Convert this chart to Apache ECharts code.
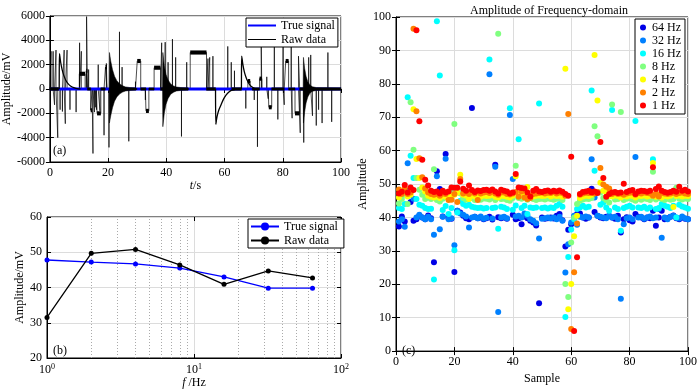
<!DOCTYPE html>
<html><head><meta charset="utf-8">
<script src="https://cdn.jsdelivr.net/npm/echarts@6/dist/echarts.min.js"></script>
<style>html,body{margin:0;padding:0;background:#fff}#c{width:700px;height:390px}</style>
</head><body><div id="c"></div>
<script>
// ---------- Panel (a): time domain ----------
const trueA = [[0, 0], [100, 0]];
const spikesA = [
  [0.4,3100],[1.1,3100],[1.6,-1300],[2.1,3200],[2.7,-4000],[3.5,-1700],[4.3,-1850],[4.9,3200],[5.3,-2850],[5.9,3200],[6.9,-1700],[9.0,-1900],
  [10.2,3800],[10.8,3100],[12.6,5950],[13.3,1600],[14.8,-5300],[15.3,-1900],[15.6,-1500],[16.0,-1700],[16.6,2000],[17.2,-1800],[18.6,-3800],[19.4,2100],
  [20.3,-4800],[23.9,4700],[24.8,1800],[27.1,-4300],[29.4,600],[32.8,-900],
  [38.4,3800],[39.6,3850],[40.6,2200],[42.1,4100],[43.2,2600],[45.2,-3900],[47.0,2200],
  [54.3,2500],[54.9,2600],[56.0,2700],[61.1,3500],[62.3,2200],[63.4,1500],
  [67.3,-1600],[70.2,-900],[71.3,-4750],[72.6,3500],[74.5,1000],[75.0,-800],[77.1,4000],[78.3,-2500],[80.1,3500],[80.5,-1300],
  [82.9,3600],[83.2,-2400],[85.4,2700],[86.0,-3600],[87.2,-4400],[88.9,2600],[89.6,2800],[90.2,-2200],[91.5,-3000],[92.3,-1700],[93.5,-2800],[95.5,3000],[96.8,-2700]
];
const plateausA = [
  [10.1,12.1,1250],[12.5,12.9,1500],[14.0,14.5,-1750],[16.2,17.5,-2000],[19.1,19.6,1800],[30.0,31.2,2300],[33.0,34.0,-1800],
  [35.8,38.0,1750],[48.2,53.8,3000],[68.0,68.8,650],[72.0,72.8,850],[75.2,76.2,-1500],[81.0,82.0,2300],[84.2,85.8,-2000]
];
const decay1 = [[3.2,0],[3.3,2900],[3.7,2200],[4.2,1600],[4.8,1100],[5.5,700],[6.3,420],[7.2,230],[8.2,110],[9.3,40],[10.5,0]];
const decay4 = [[56.9,0],[57.0,-2900],[57.4,-2300],[58.0,-1750],[58.8,-1300],[59.6,-850],[60.5,-500],[61.5,-250],[62.5,-100],[64.0,0]];
const decay5 = [[65.8,0],[65.9,2700],[66.3,2000],[66.8,1400],[67.3,1000],[67.9,650],[68.5,400],[69.2,200],[70.2,60],[71.0,0]];
const burst2 = [[20.35,0,0],[20.45,3000,-2800],[20.9,2300,-2200],[21.5,1600,-1550],[22.2,1050,-1000],[23,680,-650],[24,420,-400],[25,260,-250],[26,170,-160],[27.5,120,-120],[29.5,100,-100],[30,0,0]];
const burst3 = [[38.7,0,0],[38.8,3000,-3100],[39.3,1900,-2000],[39.9,1200,-1250],[40.6,750,-780],[41.5,420,-430],[42.5,250,-260],[43.5,160,-160],[45,120,-120],[47.5,100,-100],[47.6,0,0]];
const burst6 = [[87.0,0,0],[87.1,2600,-2800],[87.5,1700,-1900],[88,1050,-1150],[88.6,600,-650],[89.3,330,-350],[90.2,180,-180],[91.5,120,-120],[100,110,-110]];
const noiseA = [[0,3.0,120],[12.9,14.0,100],[17.5,19.0,100],[31.2,33.0,100],[34.0,35.8,90],[38.0,38.8,110],[53.8,56.9,110],[62.5,65.8,110],[69.5,72.0,100],[76.2,80.5,100],[82.0,84.2,90],[85.8,87.1,110]];

// ---------- Panel (b): frequency vs amplitude ----------
const freqB = [1, 2, 4, 8, 16, 32, 64];
const trueB = [47.8, 47.2, 46.7, 45.5, 43.0, 39.8, 39.8];
const rawB  = [31.5, 49.7, 50.8, 46.4, 40.9, 44.7, 42.7];
const minorB = [2,3,4,5,6,7,8,9,20,30,40,50,60,70,80,90];

// ---------- Panel (c): amplitude per sample ----------
const namesC = ['64 Hz','32 Hz','16 Hz','8 Hz','4 Hz','2 Hz','1 Hz'];
const c64 = [37.3,40.3,38.8,47.9,44.6,39.0,39.5,40.6,40.0,39.5,
40.6,39.8,26.6,53.8,48.5,40.3,59.0,39.8,39.6,23.7,
42.0,41.5,40.5,39.8,39.5,72.8,40.2,39.8,40.0,39.5,
39.8,40.2,39.4,55.8,40.1,39.8,40.0,39.6,46.8,40.8,
39.5,39.8,38.0,40.3,39.8,39.0,38.5,37.6,14.3,40.0,
39.6,39.8,40.0,39.7,40.5,41.0,39.2,31.3,36.3,38.0,
40.2,41.0,41.2,40.0,39.6,40.0,48.6,41.6,40.5,40.0,
39.8,40.2,40.4,40.0,39.6,40.5,35.5,39.5,40.1,39.2,
38.8,41.0,40.2,40.0,39.5,40.0,39.8,42.0,37.5,40.0,
42.0,39.5,39.8,40.2,40.6,39.8,39.5,40.0,39.6,39.5];
const c32 = [38.8,39.5,37.2,56.2,48.4,45.6,40.0,40.8,40.0,39.5,
40.2,39.5,34.8,52.3,36.5,40.2,57.6,39.5,39.8,31.7,
42.0,41.2,40.8,40.3,37.0,40.0,40.2,39.8,40.3,39.6,
39.9,82.9,39.7,55.2,11.7,40.0,40.2,39.8,70.7,51.5,
40.3,40.5,40.0,41.2,40.5,39.5,39.0,38.3,33.7,39.6,
39.8,40.0,39.7,40.0,39.5,40.2,39.0,23.5,32.0,38.5,
40.5,37.8,40.2,40.0,40.3,40.0,57.4,46.0,40.5,40.2,
40.0,39.8,40.5,40.0,40.2,39.5,15.7,38.0,39.8,40.0,
39.5,58.1,40.0,40.2,39.6,40.0,40.3,39.8,40.0,42.5,
33.9,40.0,39.5,40.2,40.5,40.0,39.7,40.3,39.8,39.5];
const c16 = [42.8,42.5,44.0,76.0,58.5,51.8,45.5,43.8,43.5,42.8,
42.5,42.6,21.4,98.7,82.5,42.2,43.4,41.0,42.8,30.2,
41.5,45.0,44.0,43.5,43.8,43.2,43.0,42.8,42.9,42.7,
42.8,87.3,42.8,43.0,36.6,43.2,43.0,42.5,72.7,42.3,
43.6,63.4,42.8,43.5,41.0,43.0,42.8,43.0,74.1,42.8,
43.0,42.7,43.0,42.8,43.5,44.0,43.2,10.2,28.2,36.4,
39.5,42.5,43.0,43.5,43.0,43.2,78.0,54.0,47.5,43.8,
44.5,43.0,42.0,72.2,43.0,42.5,36.0,42.8,43.2,43.5,
43.0,68.9,43.0,42.8,43.2,42.6,43.0,57.4,42.5,42.8,
44.0,43.5,43.2,42.8,43.5,40.0,43.8,43.3,43.0,42.6];
const c8 = [44.2,45.5,46.8,44.0,74.5,60.3,51.8,48.3,46.8,45.5,
46.0,45.5,54.4,45.2,44.8,45.6,46.2,45.8,47.5,68.0,
47.8,47.2,45.8,45.3,45.6,45.8,45.2,45.5,45.3,45.7,
45.6,45.4,45.8,45.2,95.0,45.5,45.6,45.2,45.0,45.8,
55.5,45.8,45.6,46.5,45.3,45.8,45.5,45.2,45.5,45.6,
45.4,45.7,45.5,45.3,45.6,45.8,45.2,20.1,16.2,32.5,
40.0,44.0,45.0,45.4,45.6,45.5,45.8,67.3,64.3,47.5,
45.8,45.2,44.5,73.8,45.4,45.5,71.6,45.2,45.6,45.8,
45.4,45.0,45.6,45.3,45.7,45.5,45.2,53.7,45.4,45.8,
45.5,45.2,45.6,45.3,45.5,48.9,45.6,45.4,45.7,45.5];
const c4 = [46.0,47.5,48.0,46.3,46.8,72.4,57.5,51.8,49.0,47.8,
46.5,46.2,46.0,46.3,45.8,46.5,46.2,46.0,46.4,46.8,
47.5,52.8,46.8,46.5,45.5,46.6,46.3,46.5,46.2,46.6,
46.4,46.5,46.7,46.2,46.0,46.5,46.4,46.2,46.0,46.5,
52.3,47.0,46.6,46.8,49.1,46.5,46.3,46.5,46.6,46.4,
46.5,46.7,46.3,46.6,46.4,46.5,46.2,84.5,12.5,20.1,
34.4,40.5,45.8,46.3,46.5,46.4,46.8,88.6,75.0,50.4,
48.0,47.5,46.5,46.3,46.6,46.4,46.0,46.5,46.3,46.6,
46.4,46.0,46.5,46.4,46.6,46.3,46.5,56.3,46.2,46.8,
46.0,46.4,46.3,46.5,43.1,46.4,46.6,46.3,46.5,46.4];
const c2 = [48.4,47.0,48.8,47.0,47.5,96.5,71.8,57.7,52.0,48.7,
47.5,47.0,46.8,47.0,46.5,47.2,47.0,45.2,45.3,47.0,
44.6,51.5,47.2,47.5,47.0,47.8,47.2,45.2,47.2,47.5,
47.6,47.3,47.8,47.2,46.8,47.5,47.5,47.0,46.9,47.2,
47.6,46.2,47.8,46.0,45.5,45.8,47.0,47.2,47.3,47.5,
47.2,47.4,47.3,47.6,47.2,47.5,47.3,46.5,71.0,6.6,
23.6,38.2,46.8,47.2,47.4,47.3,47.5,47.2,47.6,54.8,
49.9,49.2,48.7,47.0,47.3,47.0,47.2,46.8,47.2,47.4,
47.5,46.8,47.3,47.2,47.5,47.3,47.2,46.5,47.2,46.3,
47.4,47.2,47.0,47.2,47.4,47.0,47.3,47.5,47.2,47.0];
const c1 = [47.2,47.7,49.7,47.5,49.0,48.2,96.0,68.8,57.3,51.3,
49.6,48.0,47.6,47.8,47.2,48.0,47.5,47.8,49.0,48.9,
48.9,50.8,48.6,48.0,49.6,48.2,47.6,48.1,47.9,48.2,
48.3,48.0,48.4,47.8,47.2,48.3,48.0,47.8,47.2,47.5,
53.0,49.0,48.8,48.7,47.5,46.3,48.0,48.5,47.8,47.6,
47.9,48.1,47.7,48.0,47.8,48.1,47.7,47.0,46.5,58.2,
6.0,28.1,47.0,47.6,47.8,48.0,47.5,47.8,47.3,62.6,
51.8,46.2,47.0,47.5,47.6,47.3,47.5,50.1,47.6,48.0,
48.2,47.0,47.8,48.0,47.9,47.7,48.0,55.0,48.5,49.3,
48.0,47.6,47.4,47.6,48.0,47.7,49.2,48.0,48.3,47.8];
const valuesC = [c64, c32, c16, c8, c4, c2, c1];
const colorsC = ['#0000e6','#0080ff','#00ffff','#80ff80','#ffff00','#ff8000','#ff0000'];

// ---------- build ----------
const FONT = 'Liberation Serif';
const FS = 12;
const T = {color:'#000', fontFamily:FONT, fontSize:FS};
const PN = 170; // plateau noise half-height (mV)

const ev = [];
spikesA.forEach(([t,v]) => ev.push({t, pts:[[t,0],[t,v],[t,0]]}));
plateausA.forEach(([t0,t1,L]) => ev.push({t:t0, pts:[[t0,0],[t0,L],[t1,L],[t1,0]]}));
ev.sort((a,b)=>a.t-b.t);
const rawLine = [[0,0]];
ev.forEach(e => e.pts.forEach(p => rawLine.push(p)));
rawLine.push([100,0]);

const bandShapes = [];
[burst2, burst3, burst6].forEach(b => {
  const up = b.map(p=>[p[0],p[1]]);
  const lo = b.map(p=>[p[0],p[2]]).reverse();
  bandShapes.push(up.concat(lo));
});
noiseA.forEach(([t0,t1,a]) => bandShapes.push([[t0,a],[t1,a],[t1,-a],[t0,-a]]));

const plainNum = v => String(v);
function axisBase(extra){
  return Object.assign({
    axisLine:{show:true, onZero:false, lineStyle:{color:'#000', width:1}},
    axisTick:{show:true, inside:true, length:4, lineStyle:{color:'#000'}},
    axisLabel:Object.assign({margin:5, formatter:plainNum}, T),
    splitLine:{show:true, lineStyle:{color:'#dcdcdc', width:1}},
    nameLocation:'middle',
    nameTextStyle:Object.assign({rich:{i:Object.assign({fontStyle:'italic'}, T)}}, T)
  }, extra);
}
function mirror(extra){
  return Object.assign({
    axisLine:{show:false}, axisLabel:{show:false}, splitLine:{show:false},
    axisTick:{show:true, inside:true, length:4, lineStyle:{color:'#000'}}
  }, extra);
}

const series = [];
// (a)
series.push({name:'Raw data', type:'line', xAxisIndex:0, yAxisIndex:0, data:rawLine, symbol:'none',
  lineStyle:{color:'#000', width:0.7}, itemStyle:{color:'#000'}, z:2});
series.push({name:'True signal', type:'line', xAxisIndex:0, yAxisIndex:0, data:trueA, symbol:'none',
  lineStyle:{color:'#0000ff', width:3}, itemStyle:{color:'#0000ff'}, z:3});
series.push({name:'bands', type:'custom', xAxisIndex:0, yAxisIndex:0, z:4, clip:true,
  data:bandShapes.map(s=>[s[0][0],0]),
  renderItem:(params, api)=>{
    const pts = bandShapes[params.dataIndex].map(p=>api.coord(p));
    return {type:'polygon', shape:{points:pts}, style:{fill:'#000', stroke:'#000', lineWidth:0.5}};
  }});
series.push({name:'plateaus', type:'custom', xAxisIndex:0, yAxisIndex:0, z:4, clip:true,
  data:plateausA, encode:{x:[0,1], y:2},
  renderItem:(params, api)=>{
    const t0=api.value(0), t1=api.value(1), L=api.value(2);
    const a = api.coord([t0, L+PN]), b = api.coord([t1, L-PN]);
    return {type:'rect', shape:{x:a[0], y:a[1], width:b[0]-a[0], height:b[1]-a[1]}, style:{fill:'#000'}};
  }});
[decay1, decay4, decay5].forEach((d,i)=>series.push({name:'decay'+i, type:'line', xAxisIndex:0, yAxisIndex:0,
  data:d, symbol:'none', smooth:0.3, lineStyle:{color:'#000', width:1.3}, z:4}));

// (b)
series.push({name:'True signal ', type:'line', xAxisIndex:1, yAxisIndex:1,
  data:freqB.map((f,i)=>[f,trueB[i]]), symbol:'circle', symbolSize:5,
  lineStyle:{color:'#0000ff', width:1.3}, itemStyle:{color:'#0000ff'}, z:3,
  markLine:{silent:true, symbol:['none','none'], label:{show:false},
    lineStyle:{color:'#aaaaaa', type:[1,2], width:1}, data:minorB.map(v=>({xAxis:v})), z:1}});
series.push({name:'Raw data ', type:'line', xAxisIndex:1, yAxisIndex:1,
  data:freqB.map((f,i)=>[f,rawB[i]]), symbol:'circle', symbolSize:5,
  lineStyle:{color:'#000', width:1.3}, itemStyle:{color:'#000'}, z:3});

// (c)
namesC.forEach((n,k)=>series.push({name:n, type:'scatter', xAxisIndex:2, yAxisIndex:2,
  data:valuesC[k].map((v,i)=>[i+1, v]), symbol:'circle', symbolSize:6,
  itemStyle:{color:colorsC[k], opacity:1}, z:3+k}));

const legendBase = {orient:'vertical', borderColor:'#000', borderWidth:1, backgroundColor:'#fff',
  textStyle:Object.assign({lineHeight:13}, T), selectedMode:false, itemGap:1, z:10};

const option = {
  animation:false,
  backgroundColor:'#fff',
  title:{text:'Amplitude of Frequency-domain', left:544, top:0, textAlign:'center',
    textStyle:{color:'#000', fontFamily:FONT, fontSize:FS, fontWeight:'normal'}},
  grid:[
    {left:47, top:16, width:294, height:146, show:true, borderColor:'#000', borderWidth:1, backgroundColor:'transparent'},
    {left:47, top:217, width:294, height:144, show:true, borderColor:'#000', borderWidth:1, backgroundColor:'transparent'},
    {left:396, top:17, width:296, height:345, show:true, borderColor:'#000', borderWidth:1, backgroundColor:'transparent'}
  ],
  xAxis:[
    axisBase({gridIndex:0, type:'value', min:0, max:100, interval:20, name:'{i|t}/s', nameGap:18}),
    axisBase({gridIndex:1, type:'log', logBase:10, min:1, max:100, name:'{i|f} /Hz', nameGap:19,
      axisLabel:Object.assign({margin:5, formatter:v=>'{b|10}{s|'+Math.round(Math.log10(v))+'}',
        rich:{b:Object.assign({}, T), s:Object.assign({}, T, {fontSize:8, verticalAlign:'top', padding:[0,0,6,0]})}}, T)}),
    axisBase({gridIndex:2, type:'value', min:0, max:100, interval:20, name:'Sample', nameGap:17}),
    mirror({gridIndex:0, type:'value', position:'top', min:0, max:100, interval:20}),
    mirror({gridIndex:1, type:'log', logBase:10, position:'top', min:1, max:100}),
    mirror({gridIndex:2, type:'value', position:'top', min:0, max:100, interval:20})
  ],
  yAxis:[
    axisBase({gridIndex:0, type:'value', min:-6000, max:6000, interval:2000, name:'Amplitude/mV', nameGap:32}),
    axisBase({gridIndex:1, type:'value', min:20, max:60, interval:10, name:'Amplitude/mV', nameGap:20}),
    axisBase({gridIndex:2, type:'value', min:0, max:100, interval:10, name:'Amplitude', nameGap:22}),
    mirror({gridIndex:0, type:'value', position:'right', min:-6000, max:6000, interval:2000}),
    mirror({gridIndex:1, type:'value', position:'right', min:20, max:60, interval:10}),
    mirror({gridIndex:2, type:'value', position:'right', min:0, max:100, interval:10})
  ],
  legend:[
    Object.assign({}, legendBase, {data:[
        {name:'True signal', icon:'path://M0,0h28v2h-28z'},
        {name:'Raw data', icon:'path://M0,0h28v1h-28z'}],
      left:246, top:18, itemWidth:28, itemHeight:10, padding:[1,3,1,2]}),
    Object.assign({}, legendBase, {data:['True signal ','Raw data '], left:248, top:219, itemWidth:28, itemHeight:10, padding:[1,3,1,2]}),
    Object.assign({}, legendBase, {data:namesC, left:635, top:19, itemWidth:8, itemHeight:6, itemGap:0, padding:[2,4,2,5]})
  ],
  graphic:[
    {type:'text', left:53, top:145, style:{text:'(a)', fill:'#000', font:FS+'px '+FONT}},
    {type:'text', left:53, top:345, style:{text:'(b)', fill:'#000', font:FS+'px '+FONT}},
    {type:'text', left:402, top:345, style:{text:'(c)', fill:'#000', font:FS+'px '+FONT}}
  ],
  series
};
const chart = echarts.init(document.getElementById('c'), null, {width:700, height:390});
chart.setOption(option);
</script></body></html>
